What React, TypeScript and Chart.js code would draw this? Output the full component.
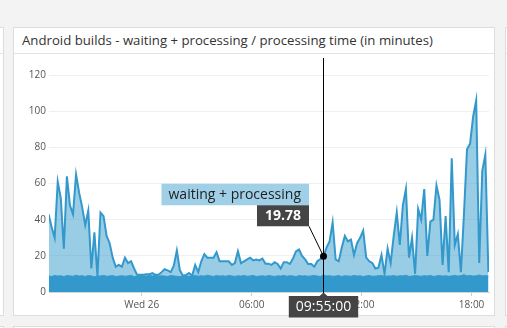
import React, { useEffect, useRef } from "react";
import { Chart, registerables } from "chart.js";

Chart.register(...registerables);

const TITLE = "Android builds - waiting + processing / processing time (in minutes)";
const SERIES_TOTAL_LABEL = "waiting + processing";
const SERIES_PROCESSING_LABEL = "processing";

// hours relative to Wed 26 00:00; first sample is Tue 25 18:55, one sample every 10 minutes
const START_HOUR = -5 - 5 / 60;
const STEP_HOURS = 10 / 60;

const X_TICK_VALUES = [0, 6, 12, 18];
const X_TICK_LABELS = ["Wed 26", "06:00", "12:00", "18:00"];
const Y_TICK_VALUES = [0, 20, 40, 60, 80, 100, 120];

const WAITING_PLUS_PROCESSING = [
  43, 36, 30, 61, 52, 24, 64, 48, 43, 65, 55, 47,
  37, 45, 13, 33, 9, 44, 42, 31, 27, 19, 14, 15,
  14, 19, 16, 17, 13, 9.5, 9.5, 9.5, 9.8, 9.8, 10.5, 9.5,
  9.5, 11, 12.6, 12, 11, 14.5, 23, 12, 9, 9.5, 10.5, 9,
  15, 11, 17, 21, 19, 19, 19, 22, 17, 17, 17, 17,
  15, 16, 22.5, 16, 17, 18, 19, 17.5, 18, 17.5, 18.5, 15.7,
  15.7, 15, 16.5, 15.5, 13, 16.5, 16.5, 15.5, 18.5, 22.5, 23.5, 20,
  18, 15.5, 15.5, 14, 17, 18.3, 19.78, 24.6, 28, 38.5, 18, 17,
  24.6, 31, 28, 29, 20.5, 27, 30, 34, 19, 17, 16, 13,
  13.5, 20.5, 10, 24, 16, 31, 44, 26, 48, 57, 19, 30,
  10, 46, 40, 57, 20, 39, 40, 59, 51, 15, 42, 11,
  74, 26, 32, 11, 43, 79, 82, 97, 106, 16, 67, 76,
  11,
];

const PROCESSING = [
  8.9, 8.6, 9.2, 8.8, 9.0, 8.5, 9.1, 8.9, 8.7, 9.3, 8.8, 9.0,
  8.6, 9.1, 8.9, 8.4, 9.0, 8.8, 9.2, 8.7, 8.9, 9.1, 8.6, 8.8,
  9.0, 8.7, 8.9, 9.2, 8.5, 8.8, 9.3, 9.0, 8.8, 9.1, 8.9, 9.2,
  8.7, 9.0, 8.8, 8.6, 9.1, 8.9, 8.7, 8.5, 8.9, 9.0, 8.6, 8.8,
  9.2, 8.7, 9.0, 8.8, 9.3, 8.9, 8.6, 9.1, 8.8, 9.0, 8.7, 9.2,
  8.9, 8.6, 9.0, 8.8, 9.1, 8.7, 8.9, 9.2, 8.6, 8.8, 9.0, 8.7,
  9.1, 8.9, 8.6, 9.0, 8.8, 9.2, 8.7, 9.0, 8.9, 8.5, 9.1, 8.8,
  9.0, 8.7, 8.9, 9.2, 8.8, 8.6, 9.3, 8.9, 9.0, 8.7, 8.8, 9.1,
  8.6, 9.0, 8.9, 8.7, 9.2, 8.8, 9.0, 8.5, 8.9, 9.1, 8.7, 8.8,
  9.0, 9.2, 8.6, 8.9, 8.8, 9.1, 8.7, 9.0, 8.9, 9.3, 8.6, 8.8,
  9.1, 8.9, 8.7, 9.0, 8.8, 9.2, 8.6, 8.9, 9.1, 8.8, 9.0, 8.7,
  8.9, 9.2, 8.8, 9.0, 9.6, 8.9, 9.1, 8.8, 9.0, 9.4, 8.9, 9.1,
  8.8,
];

const HOVER_INDEX = 90;
const HOVER_TIME_LABEL = "09:55:00";

const LINE_COLOR = "#3399cc";
const AREA_COLOR = "rgba(51,153,204,0.5)";
const FONT = '"Open Sans", sans-serif';

const hoverPlugin = {
  id: "hoverOverlay",
  afterDraw(chart: any) {
    const ctx = chart.ctx as CanvasRenderingContext2D;
    const area = chart.chartArea;
    const pt = chart.getDatasetMeta(1).data[HOVER_INDEX];
    if (!pt) return;
    const px = Math.round(pt.x) + 0.5;
    const py = pt.y;
    ctx.save();
    ctx.strokeStyle = "#000";
    ctx.lineWidth = 1;
    ctx.beginPath();
    ctx.moveTo(px, area.top);
    ctx.lineTo(px, area.bottom + 1);
    ctx.stroke();

    const valueText = WAITING_PLUS_PROCESSING[HOVER_INDEX].toFixed(2);
    ctx.font = `bold 14px ${FONT}`;
    const vW = ctx.measureText(valueText).width + 16;
    const boxRight = px - 14.5;
    const vH = 21;
    const vBottom = py - 30;
    const vTop = vBottom - vH;
    ctx.font = `14px ${FONT}`;
    const sW = ctx.measureText(SERIES_TOTAL_LABEL).width + 15;
    const sH = 21.5;
    const sTop = vTop - sH;

    ctx.fillStyle = "#a0d0e7";
    ctx.fillRect(boxRight - sW, sTop, sW, sH);
    ctx.fillStyle = "#222";
    ctx.textBaseline = "middle";
    ctx.textAlign = "left";
    ctx.fillText(SERIES_TOTAL_LABEL, boxRight - sW + 7, sTop + sH / 2 + 0.5);

    ctx.fillStyle = "#444";
    ctx.fillRect(boxRight - vW, vTop, vW, vH);
    ctx.font = `bold 14px ${FONT}`;
    ctx.fillStyle = "#fff";
    ctx.textAlign = "center";
    ctx.fillText(valueText, boxRight - vW / 2, vTop + vH / 2 + 0.5);

    ctx.strokeStyle = "#000";
    ctx.beginPath();
    ctx.moveTo(boxRight, vBottom);
    ctx.lineTo(px, py);
    ctx.stroke();

    ctx.fillStyle = "#000";
    ctx.beginPath();
    ctx.arc(px, py, 3.5, 0, Math.PI * 2);
    ctx.fill();

    ctx.font = `14px ${FONT}`;
    const tW = ctx.measureText(HOVER_TIME_LABEL).width + 14;
    const tTop = area.bottom + 4;
    const tH = 21.5;
    ctx.fillStyle = "#444";
    ctx.fillRect(px - tW / 2, tTop, tW, tH);
    ctx.beginPath();
    ctx.moveTo(px - 4.5, tTop + 0.5);
    ctx.lineTo(px, tTop - 3.5);
    ctx.lineTo(px + 4.5, tTop + 0.5);
    ctx.closePath();
    ctx.fill();
    ctx.fillStyle = "#fff";
    ctx.textAlign = "center";
    ctx.fillText(HOVER_TIME_LABEL, px, tTop + tH / 2 + 0.5);
    ctx.restore();
  },
};

function Card(props: { left: number; top: number; width: number; height: number; title?: string }) {
  return (
    <div
      style={{
        position: "absolute",
        left: props.left,
        top: props.top,
        width: props.width,
        height: props.height,
        boxSizing: "border-box",
        background: "#fff",
        border: "1px solid #dddddd",
      }}
    >
      <div
        style={{
          height: 25,
          borderBottom: "1px solid #e3e3e3",
          lineHeight: "25px",
          paddingLeft: 8,
          fontSize: 13.2,
          color: "#333",
          whiteSpace: "nowrap",
          overflow: "hidden",
        }}
      >
        {props.title || ""}
      </div>
    </div>
  );
}

export default function App() {
  const ref = useRef<HTMLCanvasElement>(null);

  useEffect(() => {
    const canvas = ref.current;
    if (!canvas) return;
    const xs = WAITING_PLUS_PROCESSING.map((_, i) => START_HOUR + i * STEP_HOURS);
    const chart = new Chart(canvas, {
      type: "line",
      data: {
        datasets: [
          {
            label: SERIES_PROCESSING_LABEL,
            data: PROCESSING.map((v, i) => ({ x: xs[i], y: v })),
            borderColor: LINE_COLOR,
            backgroundColor: LINE_COLOR,
            borderWidth: 1,
            pointRadius: 0,
            fill: "origin",
            tension: 0,
          },
          {
            label: SERIES_TOTAL_LABEL,
            data: WAITING_PLUS_PROCESSING.map((v, i) => ({ x: xs[i], y: v })),
            borderColor: LINE_COLOR,
            backgroundColor: AREA_COLOR,
            borderWidth: 2,
            pointRadius: 0,
            fill: "origin",
            tension: 0,
          },
        ],
      },
      options: {
        responsive: false,
        animation: false,
        events: [],
        layout: { padding: { top: 4, right: 4, bottom: 16, left: 0 } },
        plugins: { legend: { display: false }, tooltip: { enabled: false } },
        scales: {
          x: {
            type: "linear",
            min: -5.06,
            max: 18.95,
            afterBuildTicks: (scale: any) => {
              scale.ticks = X_TICK_VALUES.map((v) => ({ value: v }));
            },
            afterFit: (scale: any) => {
              scale.height = 20;
            },
            ticks: {
              autoSkip: false,
              maxRotation: 0,
              padding: 3,
              color: "#555",
              font: { family: FONT, size: 10 },
              callback: (value: any) => {
                const k = X_TICK_VALUES.indexOf(Number(value));
                return k >= 0 ? X_TICK_LABELS[k] : "";
              },
            },
            grid: { drawOnChartArea: false, drawTicks: true, tickLength: 4, color: "#cccccc" },
            border: { display: true, color: "#d4d4d4" },
          },
          y: {
            min: 0,
            max: 129.5,
            afterBuildTicks: (scale: any) => {
              scale.ticks = Y_TICK_VALUES.map((v) => ({ value: v }));
            },
            afterFit: (scale: any) => {
              scale.width = 35;
              scale.paddingTop = 0;
            },
            ticks: {
              padding: 3,
              color: "#555",
              font: { family: FONT, size: 10 },
            },
            grid: { color: "#f0f0f0", drawTicks: false },
            border: { display: false },
          },
        },
      },
      plugins: [hoverPlugin],
    } as any);
    return () => chart.destroy();
  }, []);

  return (
    <div
      style={{
        position: "fixed",
        left: 0,
        top: 0,
        width: 507,
        height: 328,
        background: "#f3f3f3",
        overflow: "hidden",
        fontFamily: FONT,
      }}
    >
      <Card left={-100} top={27} width={104} height={289} />
      <Card left={13} top={27} width={482} height={289} title={TITLE} />
      <Card left={505} top={27} width={120} height={289} />
      <Card left={-100} top={326} width={104} height={100} />
      <Card left={13} top={326} width={482} height={100} />
      <Card left={505} top={326} width={120} height={100} />
      <canvas
        ref={ref}
        width={479}
        height={274}
        style={{ position: "absolute", left: 14, top: 54, width: 479, height: 274 }}
      />
    </div>
  );
}
